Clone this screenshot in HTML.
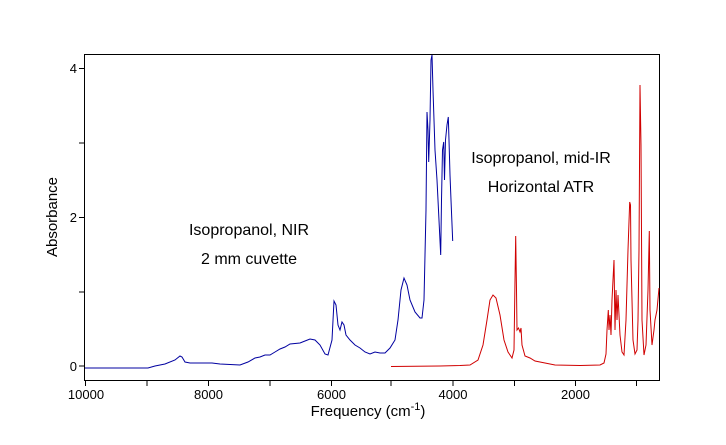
<!DOCTYPE html>
<html><head><style>
body{margin:0;background:#fff;}
svg text{font-family:"Liberation Sans",Arial,sans-serif;fill:#000;}
</style></head><body>
<svg width="726" height="440" viewBox="0 0 726 440" xmlns="http://www.w3.org/2000/svg">
<rect x="0" y="0" width="726" height="440" fill="#fff"/>
<rect x="84.5" y="54.5" width="575" height="326" fill="none" stroke="#000" stroke-width="1"/>
<g stroke="#000" stroke-width="1">
<line x1="79" y1="68.5" x2="84.5" y2="68.5"/>
<line x1="79" y1="143" x2="84.5" y2="143"/>
<line x1="79" y1="217.5" x2="84.5" y2="217.5"/>
<line x1="79" y1="292" x2="84.5" y2="292"/>
<line x1="79" y1="366" x2="84.5" y2="366"/>
<line x1="85.5" y1="380.5" x2="85.5" y2="386"/>
<line x1="147" y1="380.5" x2="147" y2="386"/>
<line x1="208.5" y1="380.5" x2="208.5" y2="386"/>
<line x1="270" y1="380.5" x2="270" y2="386"/>
<line x1="331.5" y1="380.5" x2="331.5" y2="386"/>
<line x1="391" y1="380.5" x2="391" y2="386"/>
<line x1="453" y1="380.5" x2="453" y2="386"/>
<line x1="514.5" y1="380.5" x2="514.5" y2="386"/>
<line x1="575.5" y1="380.5" x2="575.5" y2="386"/>
<line x1="636.5" y1="380.5" x2="636.5" y2="386"/>
</g>
<g font-size="13" text-anchor="end">
<text x="77" y="73">4</text>
<text x="77" y="222">2</text>
<text x="77" y="371">0</text>
</g>
<g font-size="13" text-anchor="middle">
<text x="86" y="399">10000</text>
<text x="208.5" y="399">8000</text>
<text x="331.5" y="399">6000</text>
<text x="453" y="399">4000</text>
<text x="575.5" y="399">2000</text>
</g>
<text x="368" y="416" font-size="15" text-anchor="middle">Frequency (cm<tspan dy="-6" font-size="11">-1</tspan><tspan dy="6">)</tspan></text>
<text transform="translate(57,217) rotate(-90)" font-size="15" text-anchor="middle">Absorbance</text>
<g font-size="16" text-anchor="middle">
<text x="249" y="235">Isopropanol, NIR</text>
<text x="249" y="264">2 mm cuvette</text>
<text x="541" y="163">Isopropanol, mid-IR</text>
<text x="541" y="192">Horizontal ATR</text>
</g>
<polyline fill="none" stroke="#0000a0" stroke-width="1" points="85,368 148,368 155,366 165,364 175,360 180,356 182,357 185,362 190,363 212,363 220,364 240,365 248,362 255,358 260,357 265,355 270,355 275,352 280,349 285,347 290,344 300,343 305,341 310,339 315,340 320,345 325,354 328,355 332,340 334,301 336,305 338,325 340,330 342,322 344,325 346,335 350,340 355,345 360,348 365,352 370,354 375,352 380,353 385,353 390,348 395,340 398,320 401,290 404,278 407,285 410,300 415,312 420,318 422,318 424,300 426,210 427,112 428,130 428.7,162 430,120 431,60 432,55 433,90 435,150 437,180 438,200 440.7,255 441.5,200 442.5,150 443.7,142 444.5,180 445.5,140 447,125 448.3,117 449,140 450,175 451,200 452.7,241"/>
<polyline fill="none" stroke="#d00000" stroke-width="1" points="391,366.5 440,366 460,365.5 470,365 478,360 483,345 487,320 490,300 493,295 496,298 500,315 504,340 508,352 512,358 514,350 515,280 515.7,236 516.5,290 517,330 518.5,328 520,332 521,328 522,345 525,356 530,358 535,361 545,363 555,365 580,365.5 600,365 604,363 606,354 607,330 608.3,310 609,330 610,315 611,335 612,300 613,280 614,260 615,330 616,290 617,320 618,295 620,335 622,352 624,355 626,320 628,250 629.7,202 630.5,205 631,260 633,340 635,354 637,350 638,320 639,250 640,85 641,145 642,320 644,355 646,345 648,290 649.3,231 650,310 652,345 654,330 655,320 657,310 659,288"/>
</svg>
</body></html>
